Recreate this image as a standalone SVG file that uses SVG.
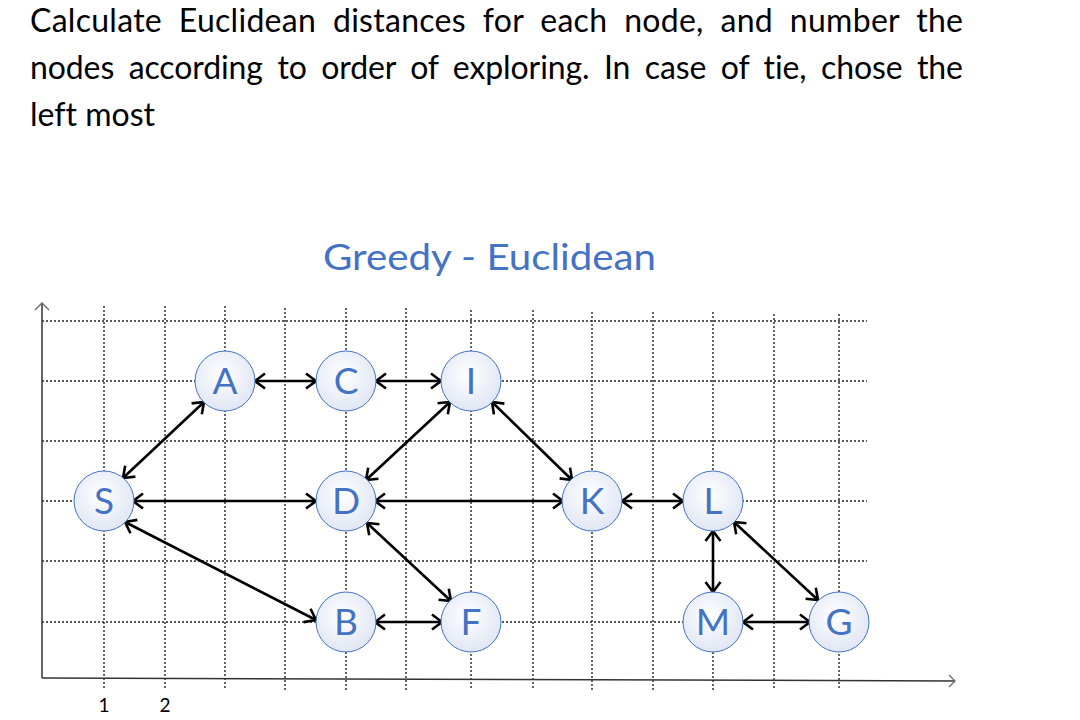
<svg xmlns="http://www.w3.org/2000/svg" width="1080" height="720" viewBox="0 0 1080 720">
<style>
.hdr{font-family:Lato,"Liberation Sans",sans-serif;font-size:32px;fill:#000;font-variant-ligatures:none}
.title{font-family:Lato,"Liberation Sans",sans-serif;font-size:37px;fill:#4472c4}
.lbl{font-family:Lato,"Liberation Sans",sans-serif;font-size:37px;fill:#4472c4;text-anchor:middle}
.num{font-family:Lato,"Liberation Sans",sans-serif;font-size:19px;fill:#000;text-anchor:middle}
.grid line{stroke:#222;stroke-width:1.4;stroke-dasharray:2 2}
.node circle{fill:url(#ng);stroke:#4472c4;stroke-width:1}
.edges line{stroke:#000;stroke-width:2.6;marker-start:url(#ah);marker-end:url(#ah)}
.axis{stroke:#333;stroke-width:1.5;fill:none}
</style>
<defs>
<radialGradient id="ng" cx="45%" cy="40%" r="60%">
<stop offset="0" stop-color="#ffffff"/>
<stop offset="1" stop-color="#e0e6f4"/>
</radialGradient>
<marker id="ah" viewBox="0 0 14 18" refX="12" refY="9" markerWidth="14" markerHeight="18" markerUnits="userSpaceOnUse" orient="auto-start-reverse">
<path d="M2,1.5 L12,9 L2,16.5" fill="none" stroke="#000" stroke-width="2.6"/>
</marker>
</defs>
<rect width="1080" height="720" fill="#fff"/>
<text class="hdr" x="30" y="32" word-spacing="8.4" textLength="933" lengthAdjust="spacing">Calculate Euclidean distances for each node, and number the</text>
<text class="hdr" x="30" y="79" word-spacing="6.4" textLength="933" lengthAdjust="spacing">nodes according to order of exploring. In case of tie, chose the</text>
<text class="hdr" x="30" y="126">left most</text>
<text class="title" x="323" y="270" textLength="333" lengthAdjust="spacingAndGlyphs">Greedy - Euclidean</text>
<g class="grid">
<line x1="42" y1="321" x2="867" y2="321"/>
<line x1="42" y1="381" x2="867" y2="381"/>
<line x1="42" y1="441" x2="867" y2="441"/>
<line x1="42" y1="501" x2="867" y2="501"/>
<line x1="42" y1="561" x2="867" y2="561"/>
<line x1="42" y1="622" x2="867" y2="622"/>
<line x1="104" y1="306" x2="104" y2="690"/>
<line x1="165" y1="306" x2="165" y2="690"/>
<line x1="225" y1="306" x2="225" y2="690"/>
<line x1="285" y1="308" x2="285" y2="690"/>
<line x1="346" y1="308" x2="346" y2="690"/>
<line x1="406" y1="308" x2="406" y2="690"/>
<line x1="471" y1="310" x2="471" y2="690"/>
<line x1="533" y1="310" x2="533" y2="690"/>
<line x1="592" y1="312" x2="592" y2="690"/>
<line x1="653" y1="312" x2="653" y2="690"/>
<line x1="713" y1="312" x2="713" y2="690"/>
<line x1="774" y1="314" x2="774" y2="690"/>
<line x1="839" y1="314" x2="839" y2="690"/>
</g>
<g id="axes">
<line class="axis" x1="42" y1="678" x2="42" y2="303"/>
<path d="M35,310 L42,303 L49,310" fill="none" stroke="#666" stroke-width="1.3"/>
<line class="axis" x1="42" y1="678" x2="955" y2="681"/>
<path d="M949,675 L955,681 L949,687" fill="none" stroke="#666" stroke-width="1.3"/>
<text class="num" x="104" y="712">1</text>
<text class="num" x="165" y="712">2</text>
</g>
<g class="edges">
<line x1="123" y1="478" x2="204" y2="402"/>
<line x1="255" y1="381" x2="316" y2="381"/>
<line x1="376" y1="381" x2="441" y2="381"/>
<line x1="133" y1="501" x2="316" y2="501"/>
<line x1="366" y1="480" x2="450" y2="402"/>
<line x1="492" y1="402" x2="572" y2="480"/>
<line x1="375" y1="501" x2="563" y2="501"/>
<line x1="622" y1="501" x2="683" y2="501"/>
<line x1="125" y1="522" x2="316" y2="620"/>
<line x1="367" y1="523" x2="451" y2="601"/>
<line x1="375" y1="622" x2="442" y2="622"/>
<line x1="713" y1="531" x2="713" y2="592"/>
<line x1="734" y1="522" x2="818" y2="600"/>
<line x1="743" y1="622" x2="810" y2="622"/>
</g>
<g id="node-A" class="node"><circle cx="225" cy="381" r="30"/><text class="lbl" x="225" y="394">A</text></g>
<g id="node-C" class="node"><circle cx="346" cy="381" r="30"/><text class="lbl" x="346" y="394">C</text></g>
<g id="node-I" class="node"><circle cx="471" cy="381" r="30"/><text class="lbl" x="471" y="394">I</text></g>
<g id="node-S" class="node"><circle cx="104" cy="501" r="30"/><text class="lbl" x="104" y="514">S</text></g>
<g id="node-D" class="node"><circle cx="346" cy="501" r="30"/><text class="lbl" x="346" y="514">D</text></g>
<g id="node-K" class="node"><circle cx="592" cy="501" r="30"/><text class="lbl" x="592" y="514">K</text></g>
<g id="node-L" class="node"><circle cx="713" cy="501" r="30"/><text class="lbl" x="713" y="514">L</text></g>
<g id="node-B" class="node"><circle cx="346" cy="622" r="30"/><text class="lbl" x="346" y="635">B</text></g>
<g id="node-F" class="node"><circle cx="471" cy="622" r="30"/><text class="lbl" x="471" y="635">F</text></g>
<g id="node-M" class="node"><circle cx="713" cy="622" r="30"/><text class="lbl" x="713" y="635">M</text></g>
<g id="node-G" class="node"><circle cx="839" cy="622" r="30"/><text class="lbl" x="839" y="635">G</text></g>
</svg>
